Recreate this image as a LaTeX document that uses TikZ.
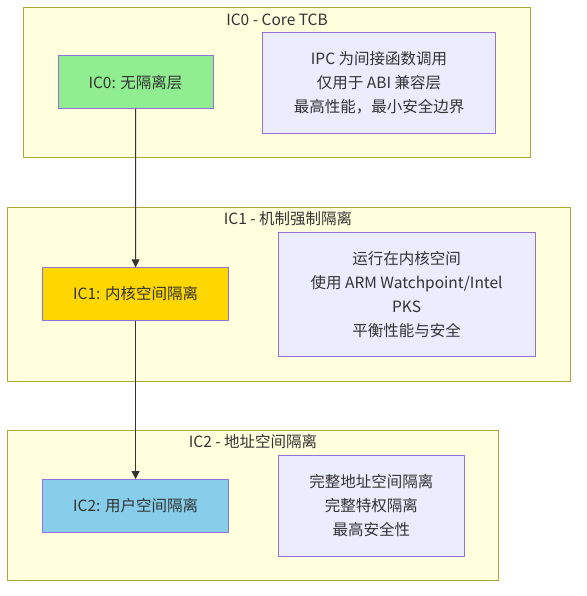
\documentclass[tikz,border=0pt]{standalone}
\usepackage{fontspec}
\setmainfont{Noto Sans CJK SC}
\usetikzlibrary{arrows.meta}
\definecolor{clfill}{HTML}{FFFFDE}
\definecolor{cldraw}{HTML}{AAAA33}
\definecolor{nddraw}{HTML}{9370DB}
\definecolor{notefill}{HTML}{ECECFF}
\definecolor{txt}{HTML}{333333}
\begin{document}
\begin{tikzpicture}[x=1pt,y=-1pt,
  every node/.style={inner sep=0pt, outer sep=0pt, text=txt, font=\fontsize{15.5}{24}\selectfont},
  cluster/.style={draw=cldraw, fill=clfill, line width=1pt},
  ttl/.style={},
  stage/.style={draw=nddraw, line width=1pt},
  note/.style={draw=nddraw, fill=notefill, line width=1pt, align=center},
  link/.style={draw=txt, line width=1pt, -{Triangle[length=8pt,width=8pt]}}
]
\useasboundingbox (0,0) rectangle (586,596);
% clusters
\node[cluster, minimum width=507pt, minimum height=150pt] (c0) at (277,82.5) {};
\node[cluster, minimum width=562.5pt, minimum height=173.5pt] (c1) at (288.75,294.25) {};
\node[cluster, minimum width=491pt, minimum height=150pt] (c2) at (253,505.5) {};
\node[ttl] (t0) at (277,20) {IC0 - Core TCB};
\node[ttl] (t1) at (288,219) {IC1 - 机制强制隔离};
\node[ttl] (t2) at (253,442) {IC2 - 地址空间隔离};
% stages
\node[stage, fill={rgb,255:red,144;green,238;blue,144}, minimum width=155pt, minimum height=53pt] (ic0) at (135.5,82.5) {IC0: 无隔离层};
\node[stage, fill={rgb,255:red,255;green,215;blue,0}, minimum width=186.7pt, minimum height=53.4pt] (ic1) at (135.6,294) {IC1: 内核空间隔离};
\node[stage, fill={rgb,255:red,135;green,206;blue,235}, minimum width=186.7pt, minimum height=53.3pt] (ic2) at (135.6,505.7) {IC2: 用户空间隔离};
% notes
\node[note, minimum width=233pt, minimum height=100.6pt] (n0) at (379,83) {IPC 为间接函数调用\\仅用于 ABI 兼容层\\最高性能，最小安全边界};
\node[note, minimum width=256.8pt, minimum height=124.3pt] (n1) at (406.6,294.2) {运行在内核空间\\使用 ARM Watchpoint/Intel\\PKS\\平衡性能与安全};
\node[note, minimum width=186.3pt, minimum height=100.7pt] (n2) at (371.4,505.7) {完整地址空间隔离\\完整特权隔离\\最高安全性};
% links
\draw[link] (ic0.south) -- (ic1.north);
\draw[link] (ic1.south) -- (ic2.north);
\end{tikzpicture}
\end{document}
